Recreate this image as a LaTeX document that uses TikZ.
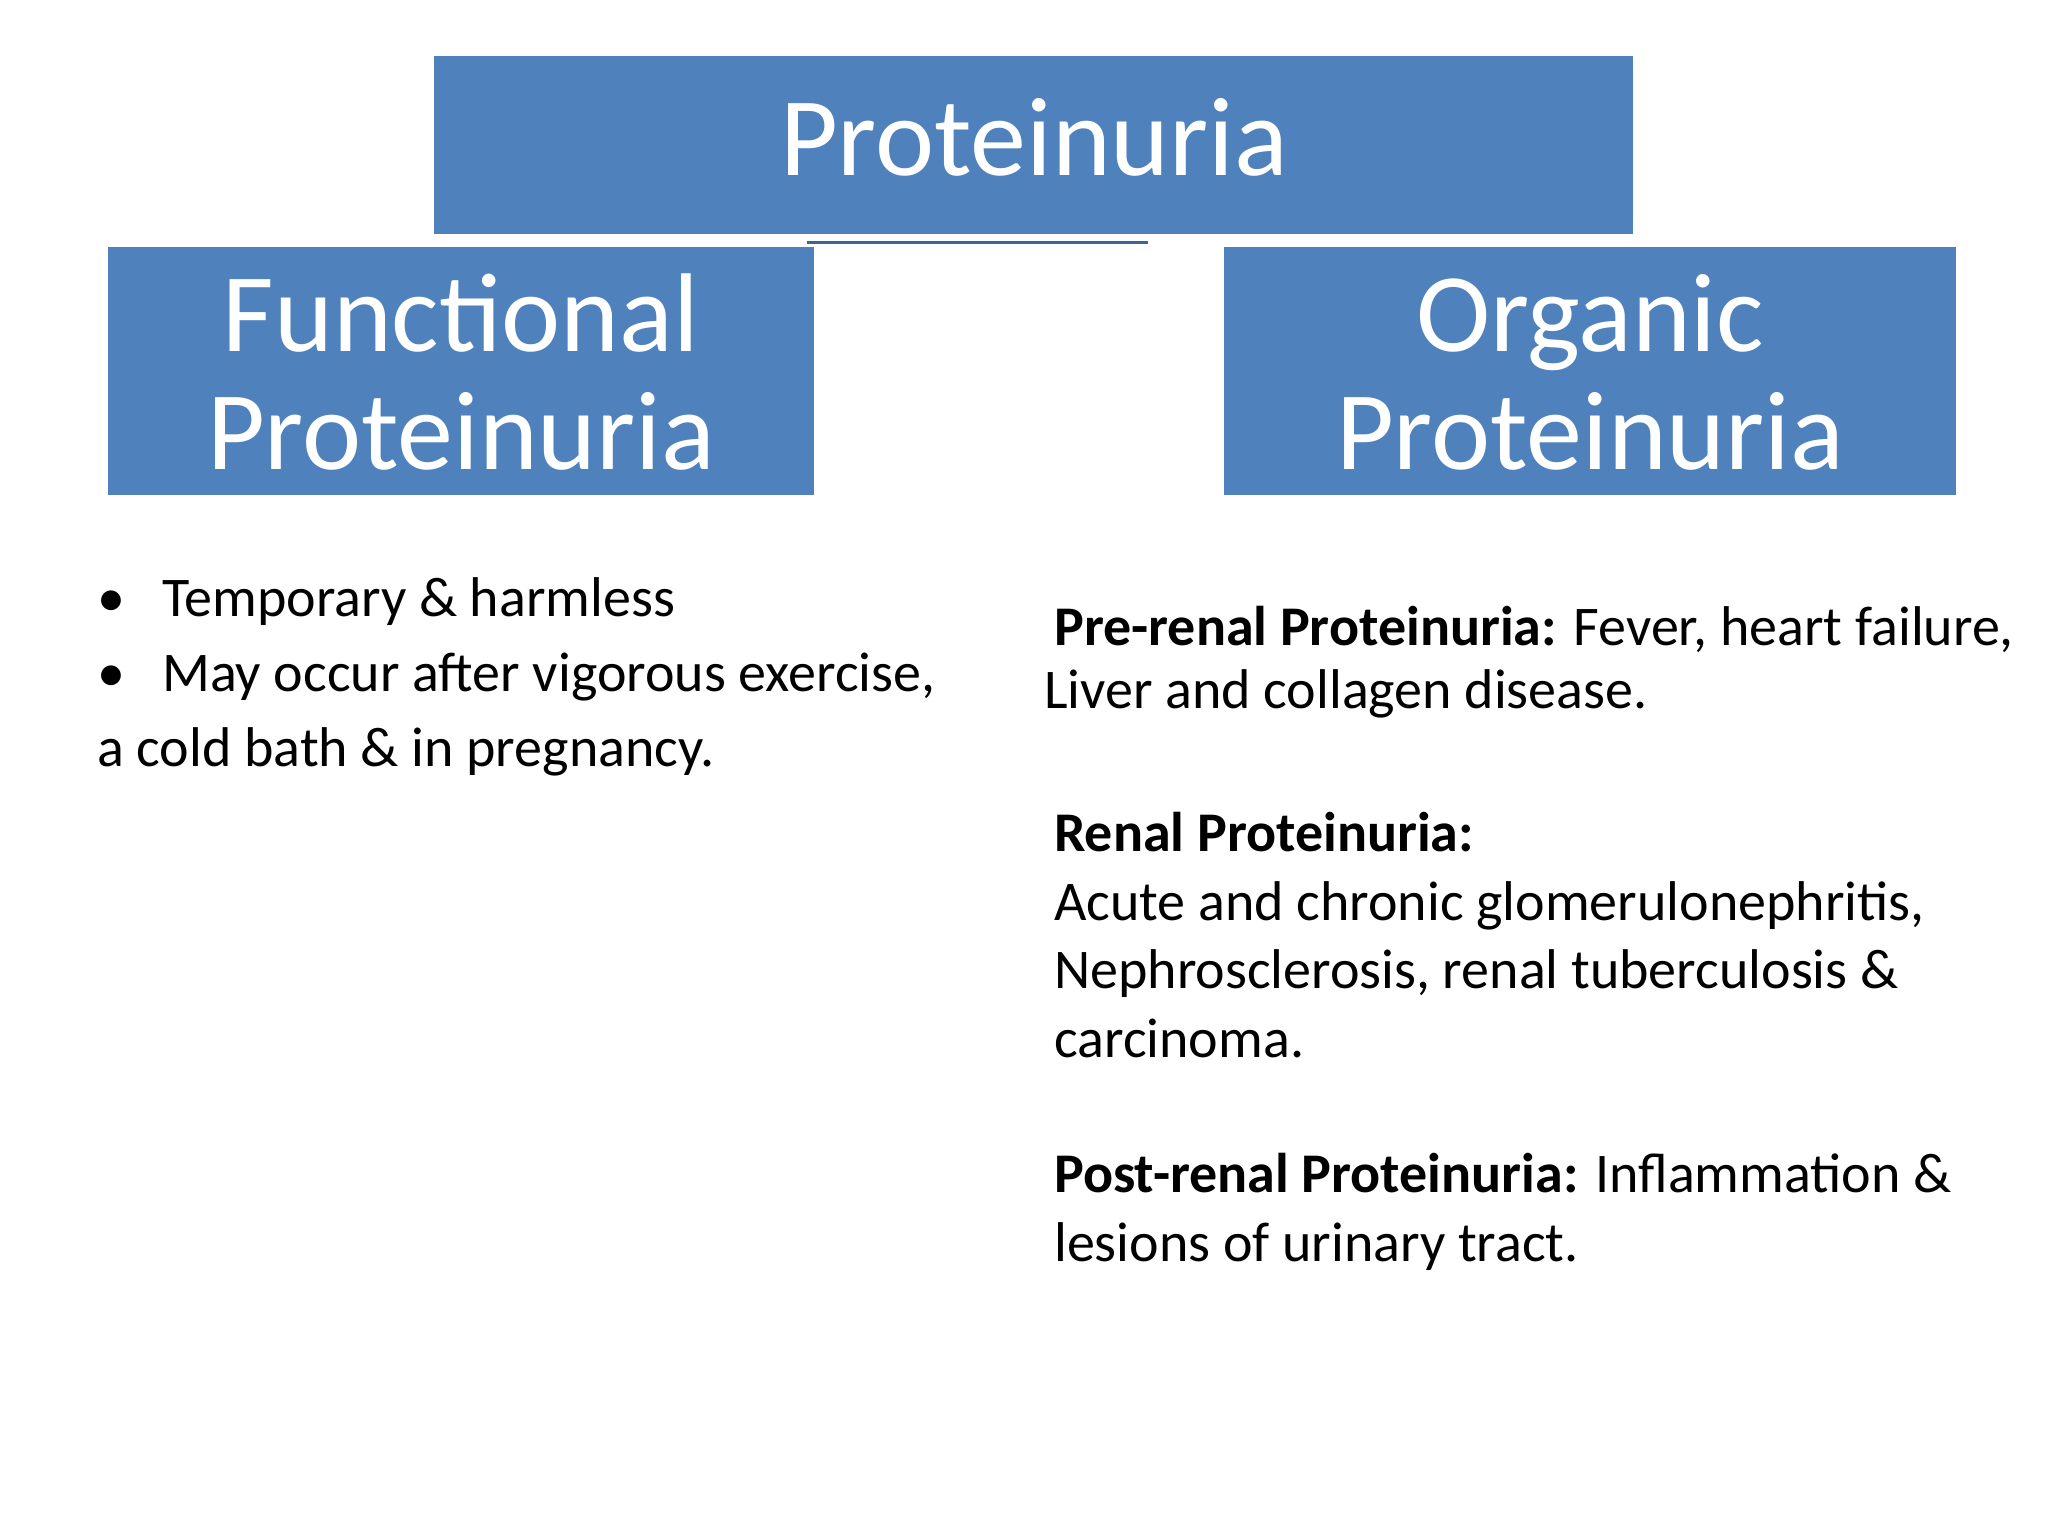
\documentclass[tikz,border=0pt]{standalone}
\usepackage{fontspec}
\setmainfont{Carlito}
\begin{document}
\begin{tikzpicture}[x=1pt,y=-1pt,
  box/.style={fill=boxblue,draw=white,line width=2pt},
  boxtext/.style={text=white,align=center,font=\fontsize{112}{118}\selectfont},
  body/.style={anchor=base west,inner sep=0,font=\fontsize{56}{68}\selectfont}]
\definecolor{boxblue}{HTML}{4F81BD}
\definecolor{linedark}{HTML}{3C6496}
\useasboundingbox[fill=white] (0,0) rectangle (2048,1536);
\draw[box] (433,55) rectangle (1634,235);
\draw[box] (107,246) rectangle (815,496);
\draw[box] (1223,246) rectangle (1957,496);
\node[boxtext] (top) at (1034,137) {Proteinuria};
\node[boxtext] (func) at (461,372) {Functional\\Proteinuria};
\node[boxtext] (org) at (1590,372) {Organic\\Proteinuria};
\coordinate (la) at (807,242);
\coordinate (lb) at (1148,242);
\draw[linedark,line width=3pt] (la) -- (lb);
\node[body] (b1) at (97,616) {•};
\node[body] (t1) at (162,616) {Temporary \& harmless};
\node[body] (b2) at (97,691) {•};
\node[body] (t2) at (162,691) {May occur after vigorous exercise,};
\node[body] (t3) at (97,766) {a cold bath \& in pregnancy.};
\node[body] (r1) at (1054,645) {\textbf{Pre-renal Proteinuria:} Fever, heart failure,};
\node[body] (r2) at (1044,708) {Liver and collagen disease.};
\node[body] (r3) at (1054,851) {\textbf{Renal Proteinuria:}};
\node[body] (r4) at (1054,920) {Acute and chronic glomerulonephritis,};
\node[body] (r5) at (1054,988) {Nephrosclerosis, renal tuberculosis \&};
\node[body] (r6) at (1054,1057) {carcinoma.};
\node[body] (r7) at (1054,1192) {\textbf{Post-renal Proteinuria:} Inflammation \&};
\node[body] (r8) at (1054,1261) {lesions of urinary tract.};
\end{tikzpicture}
\end{document}
